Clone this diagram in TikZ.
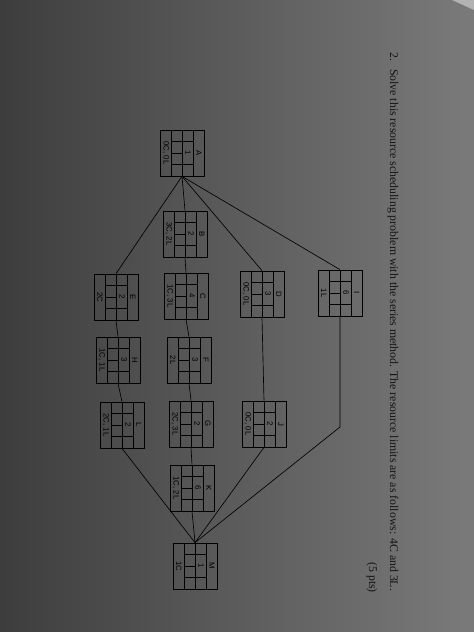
\documentclass[tikz,border=0pt]{standalone}
\usepackage{fontspec}
\setmainfont{Liberation Serif}
\newfontfamily\boxfont{Liberation Sans}
\usetikzlibrary{positioning}
\usetikzlibrary{calc}

\begin{document}
\begin{tikzpicture}[x=1pt,y=-1pt,
        actbox/.style={draw, line width=0.7pt, minimum width=44pt, minimum height=46pt, inner sep=0pt},
        boxtext/.style={rotate=-90, font=\boxfont\fontsize{7.8}{8}\selectfont, text=black, inner sep=0pt},
        titletext/.style={rotate=-90, font=\fontsize{11.8}{13}\selectfont, text=black!92, inner sep=0pt},
        link/.style={line width=0.65pt}]
        % Background of the photo
        \useasboundingbox (0,0) rectangle (474,632);
        \shade[left color=black!76, right color=black!52] (0,0) rectangle (474,632);
        \fill[black!30] (452,0) -- (474,0) -- (474,10) -- cycle;

        % Title
        \node[titletext, anchor=base west] (title) at (390,52) {2.\hspace{8pt}Solve this resource scheduling problem with the series method. The resource limits are as follows: 4C and 3L.};
        \node[titletext, anchor=base east] (pts) at (369,593) {(5 pts)};

        % Activity boxes: name/x/y/duration/resources
        \foreach \act/\x/\y/\dur/\res in {A/182/153/1/{0C, 0L}, B/185/234/2/{3C, 2L}, C/186/296/4/{1C, 3L},
                D/262/294/3/{0C, 0L}, I/340/293/6/{1L}, E/116/297/2/{2C}, H/118/360/3/{1C, 1L},
                F/189/360/3/{2L}, L/122/425/2/{2C, 1L}, G/191/424/2/{2C, 3L}, J/264/424/2/{0C, 0L},
                K/192/488/6/{1C, 2L}, M/195/566/1/{1C}}
        {
            \node[actbox] (\act) at (\x,\y) {};
            \begin{scope}[shift={(\act.center)}, line width=0.7pt]
                \draw (-10.5,-23) -- (-10.5,23);
                \draw (0.5,-23) -- (0.5,23);
                \draw (11.5,-23) -- (11.5,23);
                \draw (-10.5,-11.5) -- (11.5,-11.5);
                \draw (-10.5,11.5) -- (11.5,11.5);
                \draw (-10.5,0) -- (0.5,0);
            \end{scope}
            \node[boxtext] (\act-name) at ([xshift=16.75pt]\act.center) {\act};
            \node[boxtext] (\act-dur) at ([xshift=6pt]\act.center) {\dur};
            \node[boxtext] (\act-res) at ([xshift=-16.25pt]\act.center) {\res};
        }

        % Connections
        \foreach \from/\to in {A/B, A/D, A/E, A/I, B/C, C/F, F/G, G/K, K/M, E/H, H/L, L/M, D/J, J/M}
            \draw[link] (\from.south) -- (\to.north);
        \coordinate (ibend) at (340,427);
        \draw[link] (I.south) -- (ibend) -- (M.north);
\end{tikzpicture}
\end{document}
